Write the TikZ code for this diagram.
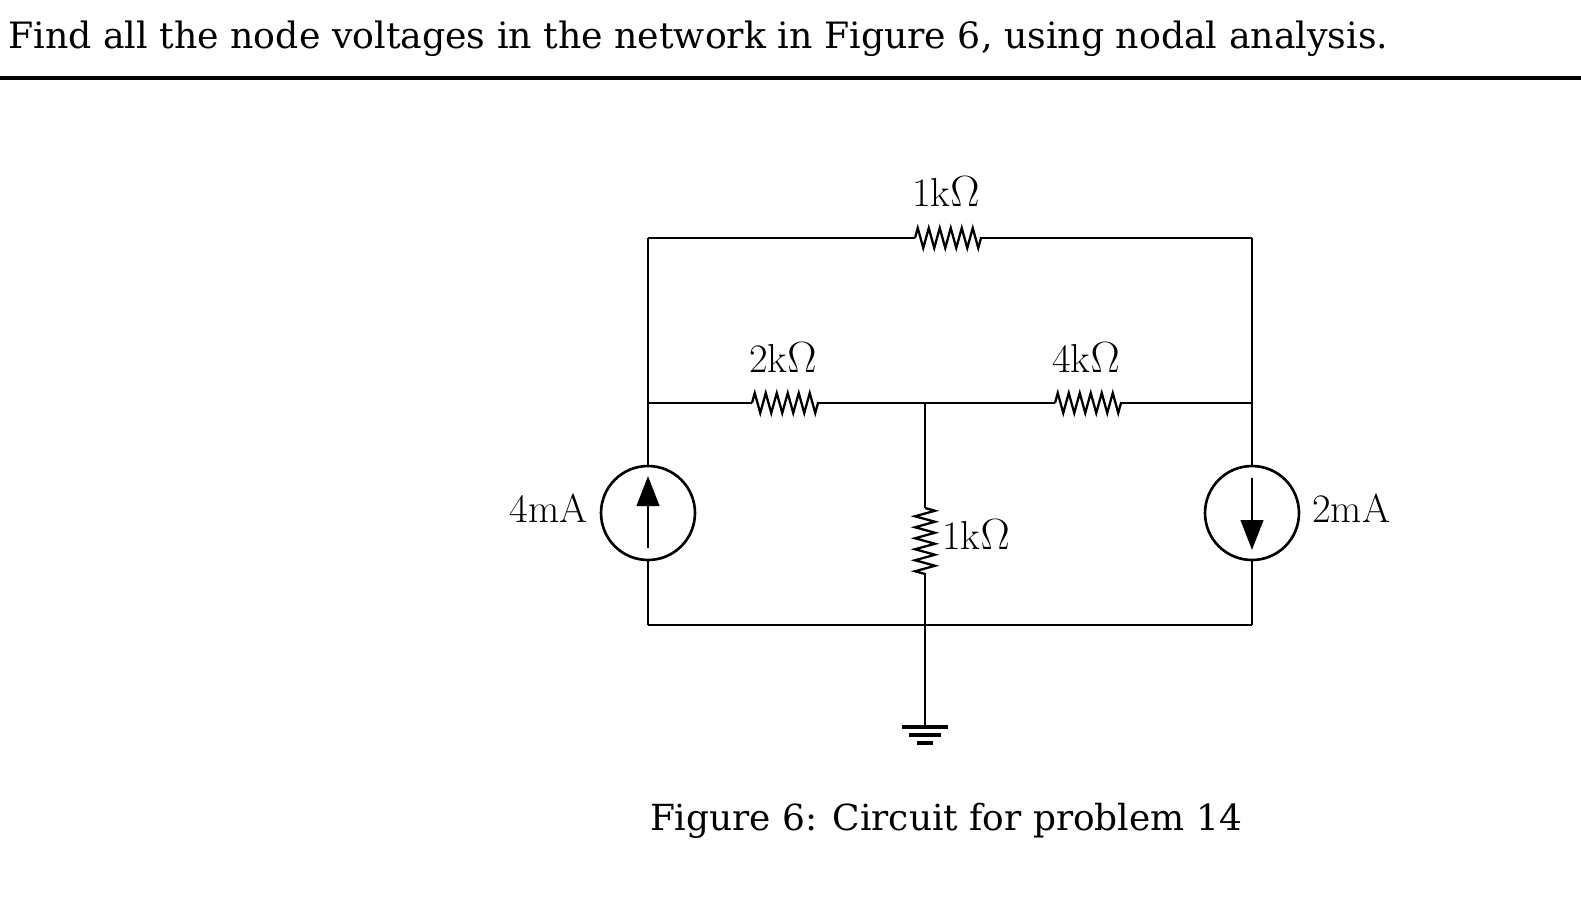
\documentclass[tikz,border=0pt]{standalone}
\usepackage{fontspec}
\newfontfamily\titlefont{DejaVu Serif}
\usetikzlibrary{decorations.pathmorphing,arrows.meta}
\begin{document}
\begin{tikzpicture}[x=0.02cm,y=-0.02cm,
  wire/.style={line width=0.9pt},
  res/.style={decoration={zigzag,amplitude=0.2cm,segment length=0.22cm},decorate,line width=1.3pt},
  src/.style={circle,draw,line width=1.5pt,minimum size=1.88cm,inner sep=0pt},
  lbl/.style={font=\fontsize{23}{28}\selectfont,inner sep=0pt},
  arr/.style={line width=1.5pt,-{Triangle[length=0.6cm,width=0.45cm]}}]
\useasboundingbox (0,0) rectangle (1581,921);
\node[anchor=base west,inner sep=0pt] (title) at (8,48) {\resizebox{27.6cm}{!}{\titlefont Find all the node voltages in the network in Figure 6, using nodal analysis.}};
\coordinate (rl) at (0,78); \coordinate (rr) at (1581,78);
\draw[line width=2.2pt] (rl) -- (rr);
% nodes
\coordinate (tl) at (648,238); \coordinate (tr) at (1252,238);
\coordinate (ml) at (648,403); \coordinate (mm) at (925,403); \coordinate (mr) at (1252,403);
\coordinate (bl) at (648,625); \coordinate (bm) at (925,625); \coordinate (br) at (1252,625);
\coordinate (g) at (925,727);
% resistor ends
\coordinate (t1) at (915,238); \coordinate (t2) at (981,238);
\coordinate (a1) at (752,403); \coordinate (a2) at (818,403);
\coordinate (b1) at (1055,403); \coordinate (b2) at (1121,403);
\coordinate (v1) at (925,508); \coordinate (v2) at (925,574);
\draw[wire] (tl) -- (t1); \draw[res] (t1) -- (t2); \draw[wire] (t2) -- (tr);
\draw[wire] (ml) -- (a1); \draw[res] (a1) -- (a2); \draw[wire] (a2) -- (mm) -- (b1);
\draw[res] (b1) -- (b2); \draw[wire] (b2) -- (mr);
\draw[wire] (mm) -- (v1); \draw[res] (v1) -- (v2); \draw[wire] (v2) -- (bm) -- (g);
\draw[wire] (tl) -- (ml); \draw[wire] (tr) -- (mr);
\draw[wire] (bl) -- (br);
\node[src] (s1) at (648,513) {};
\node[src] (s2) at (1252,513) {};
\draw[wire] (ml) -- (s1.north); \draw[wire] (s1.south) -- (bl);
\draw[wire] (mr) -- (s2.north); \draw[wire] (s2.south) -- (br);
\coordinate (s1a) at (648,548); \coordinate (s1b) at (648,476);
\coordinate (s2a) at (1252,478); \coordinate (s2b) at (1252,550);
\draw[arr] (s1a) -- (s1b);
\draw[arr] (s2a) -- (s2b);
% ground
\coordinate (g1) at (902,727); \coordinate (g2) at (948,727);
\coordinate (g3) at (909,735); \coordinate (g4) at (941,735);
\coordinate (g5) at (917,743); \coordinate (g6) at (933,743);
\draw[line width=1.8pt] (g1) -- (g2) (g3) -- (g4) (g5) -- (g6);
% labels
\node[lbl] (l1) at (946,192) {1k$\Omega$};
\node[lbl] (l2) at (783,358) {2k$\Omega$};
\node[lbl] (l3) at (1086,358) {4k$\Omega$};
\node[lbl,anchor=west] (l4) at (942,535) {1k$\Omega$};
\node[lbl,anchor=east] (l5) at (588,508) {4mA};
\node[lbl,anchor=west] (l6) at (1312,508) {2mA};
\node[anchor=base,inner sep=0pt] (cap) at (946,830) {\resizebox{11.84cm}{!}{\titlefont Figure 6: Circuit for problem 14}};
\end{tikzpicture}
\end{document}
